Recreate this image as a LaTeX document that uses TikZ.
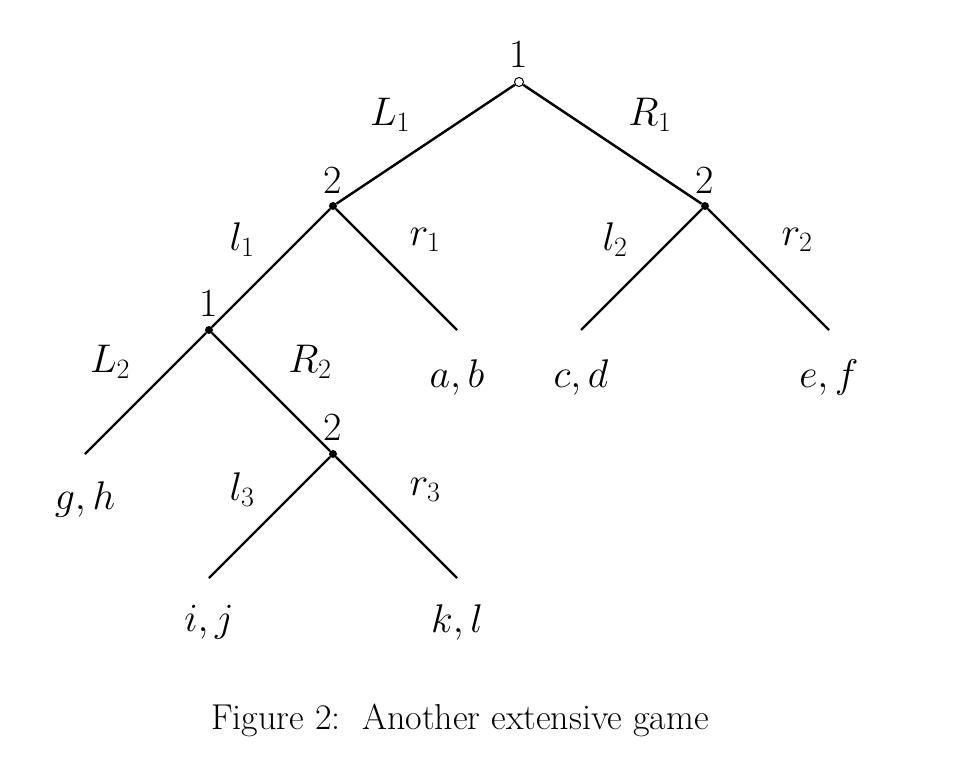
\RequirePackage{fix-cm}
\documentclass[tikz,border=0pt]{standalone}
\begin{document}
\begin{tikzpicture}[x=1pt,y=-1pt,
  edge/.style={line width=2.4pt},
  dot/.style={circle,fill=black,inner sep=0pt,minimum size=8pt},
  odot/.style={circle,draw=black,fill=white,line width=1pt,inner sep=0pt,minimum size=9pt},
  lab/.style={font=\fontsize{40}{48}\selectfont},
  leaf/.style={inner sep=0pt}]
\useasboundingbox (0,0) rectangle (976,758);
\node[odot] (r) at (519,82) {};
\node[dot] (a) at (333,206) {};
\node[dot] (b) at (705,206) {};
\node[dot] (c) at (209,330) {};
\node[dot] (d) at (333,454) {};
\coordinate (ab) at (457,330);
\coordinate (cd) at (581,330);
\coordinate (ef) at (829,330);
\coordinate (gh) at (85,454);
\coordinate (ij) at (209,578);
\coordinate (kl) at (457,578);
\draw[edge] (r) -- (a); \draw[edge] (r) -- (b);
\draw[edge] (a) -- (c); \draw[edge] (a) -- (ab);
\draw[edge] (b) -- (cd); \draw[edge] (b) -- (ef);
\draw[edge] (c) -- (gh); \draw[edge] (c) -- (d);
\draw[edge] (d) -- (ij); \draw[edge] (d) -- (kl);
\node[lab] (n1) at (519,54) {1};
\node[lab] (n2) at (333,180) {2};
\node[lab] (n3) at (705,180) {2};
\node[lab] (n4) at (209,303) {1};
\node[lab] (n5) at (333,427) {2};
\node[lab] at (390,115) {$L_1$};
\node[lab] at (650,115) {$R_1$};
\node[lab] at (242,240) {$l_1$};
\node[lab] at (425,240) {$r_1$};
\node[lab] at (615,240) {$l_2$};
\node[lab] at (797,240) {$r_2$};
\node[lab] at (110,362) {$L_2$};
\node[lab] at (310,362) {$R_2$};
\node[lab] at (242,490) {$l_3$};
\node[lab] at (425,490) {$r_3$};
\node[lab] at (457,377) {$a,b$};
\node[lab] at (581,377) {$c,d$};
\node[lab] at (829,377) {$e,f$};
\node[lab] at (85,499) {$g,h$};
\node[lab] at (209,622) {$i,j$};
\node[lab] at (457,622) {$k,l$};
\node[font=\fontsize{36}{42}\selectfont] at (460,720) {Figure 2:\ \ Another extensive game};
\end{tikzpicture}
\end{document}
